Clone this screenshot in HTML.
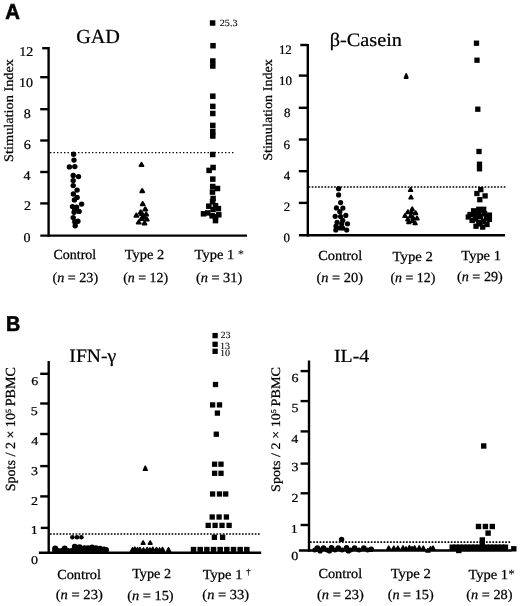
<!DOCTYPE html>
<html><head><meta charset="utf-8"><title>Figure</title>
<style>
html,body{margin:0;padding:0;background:#fff;}
body{width:520px;height:606px;overflow:hidden;}
svg{display:block;}
</style></head>
<body>
<svg width="520" height="606" viewBox="0 0 520 606">
<rect width="520" height="606" fill="#fff"/>
<g fill="#000">
<line x1="48.6" y1="47.0" x2="48.6" y2="236.8" stroke="#000" stroke-width="2.4"/>
<line x1="40.3" y1="235.6" x2="247" y2="235.6" stroke="#000" stroke-width="2.2"/>
<line x1="42.2" y1="48.2" x2="48.6" y2="48.2" stroke="#000" stroke-width="2.4"/>
<line x1="40.2" y1="77.2" x2="48.6" y2="77.2" stroke="#000" stroke-width="2.4"/>
<line x1="40.2" y1="109.2" x2="48.6" y2="109.2" stroke="#000" stroke-width="2.4"/>
<line x1="40.2" y1="140.5" x2="48.6" y2="140.5" stroke="#000" stroke-width="2.4"/>
<line x1="40.2" y1="172" x2="48.6" y2="172" stroke="#000" stroke-width="2.4"/>
<line x1="40.2" y1="203.4" x2="48.6" y2="203.4" stroke="#000" stroke-width="2.4"/>
<line x1="50" y1="152.6" x2="235" y2="152.6" stroke="#000" stroke-width="1.3" stroke-dasharray="1.4 2.1"/>
<circle cx="73.6" cy="154.2" r="2.7"/>
<circle cx="74" cy="160.1" r="2.7"/>
<circle cx="69.4" cy="166.9" r="2.7"/>
<circle cx="74.8" cy="166.6" r="2.7"/>
<circle cx="73.2" cy="175.4" r="2.7"/>
<circle cx="78.5" cy="176.6" r="2.7"/>
<circle cx="73.2" cy="180.6" r="2.7"/>
<circle cx="73.2" cy="185.6" r="2.7"/>
<circle cx="77.1" cy="190.1" r="2.7"/>
<circle cx="73.4" cy="194.0" r="2.7"/>
<circle cx="77.1" cy="197.4" r="2.7"/>
<circle cx="74.4" cy="199.9" r="2.7"/>
<circle cx="81.6" cy="204.1" r="2.7"/>
<circle cx="72.5" cy="206.6" r="2.7"/>
<circle cx="76.6" cy="207.1" r="2.7"/>
<circle cx="74.8" cy="209.8" r="2.7"/>
<circle cx="79.1" cy="211.4" r="2.7"/>
<circle cx="74.1" cy="212.2" r="2.7"/>
<circle cx="73.2" cy="217.6" r="2.7"/>
<circle cx="77.9" cy="221.3" r="2.7"/>
<circle cx="74.8" cy="221.7" r="2.7"/>
<circle cx="75.2" cy="225.8" r="2.7"/>
<path d="M141.50,162.90 L143.40,166.10 L139.60,166.10 Z" stroke="#000" stroke-width="2.0" stroke-linejoin="round"/>
<path d="M142.20,189.00 L144.10,192.20 L140.30,192.20 Z" stroke="#000" stroke-width="2.0" stroke-linejoin="round"/>
<path d="M142.70,202.10 L144.60,205.30 L140.80,205.30 Z" stroke="#000" stroke-width="2.0" stroke-linejoin="round"/>
<path d="M145.30,207.30 L147.20,210.50 L143.40,210.50 Z" stroke="#000" stroke-width="2.0" stroke-linejoin="round"/>
<path d="M140.70,210.20 L142.60,213.40 L138.80,213.40 Z" stroke="#000" stroke-width="2.0" stroke-linejoin="round"/>
<path d="M136.40,213.60 L138.30,216.80 L134.50,216.80 Z" stroke="#000" stroke-width="2.0" stroke-linejoin="round"/>
<path d="M146.20,212.40 L148.10,215.60 L144.30,215.60 Z" stroke="#000" stroke-width="2.0" stroke-linejoin="round"/>
<path d="M143.90,214.80 L145.80,218.00 L142.00,218.00 Z" stroke="#000" stroke-width="2.0" stroke-linejoin="round"/>
<path d="M146.80,217.40 L148.70,220.60 L144.90,220.60 Z" stroke="#000" stroke-width="2.0" stroke-linejoin="round"/>
<path d="M138.70,220.40 L140.60,223.60 L136.80,223.60 Z" stroke="#000" stroke-width="2.0" stroke-linejoin="round"/>
<path d="M144.50,221.20 L146.40,224.40 L142.60,224.40 Z" stroke="#000" stroke-width="2.0" stroke-linejoin="round"/>
<path d="M141.50,216.90 L143.40,220.10 L139.60,220.10 Z" stroke="#000" stroke-width="2.0" stroke-linejoin="round"/>
<path d="M141.80,211.90 L143.70,215.10 L139.90,215.10 Z" stroke="#000" stroke-width="2.0" stroke-linejoin="round"/>
<rect x="209.85" y="20.25" width="5.5" height="5.5"/>
<rect x="210.25" y="42.95" width="5.5" height="5.5"/>
<rect x="210.05" y="58.25" width="5.5" height="5.5"/>
<rect x="210.05" y="63.25" width="5.5" height="5.5"/>
<rect x="210.05" y="93.45" width="5.5" height="5.5"/>
<rect x="210.05" y="103.65" width="5.5" height="5.5"/>
<rect x="210.05" y="110.75" width="5.5" height="5.5"/>
<rect x="210.05" y="122.65" width="5.5" height="5.5"/>
<rect x="210.05" y="128.75" width="5.5" height="5.5"/>
<rect x="210.05" y="133.25" width="5.5" height="5.5"/>
<rect x="209.95" y="151.75" width="5.5" height="5.5"/>
<rect x="210.35" y="164.75" width="5.5" height="5.5"/>
<rect x="206.35" y="167.65" width="5.5" height="5.5"/>
<rect x="210.05" y="176.35" width="5.5" height="5.5"/>
<rect x="209.95" y="183.75" width="5.5" height="5.5"/>
<rect x="214.75" y="185.75" width="5.5" height="5.5"/>
<rect x="209.75" y="189.35" width="5.5" height="5.5"/>
<rect x="210.35" y="195.75" width="5.5" height="5.5"/>
<rect x="209.85" y="199.05" width="5.5" height="5.5"/>
<rect x="206.05" y="203.45" width="5.5" height="5.5"/>
<rect x="212.75" y="202.95" width="5.5" height="5.5"/>
<rect x="215.65" y="205.85" width="5.5" height="5.5"/>
<rect x="210.35" y="206.75" width="5.5" height="5.5"/>
<rect x="200.75" y="211.05" width="5.5" height="5.5"/>
<rect x="205.05" y="210.15" width="5.5" height="5.5"/>
<rect x="209.35" y="213.05" width="5.5" height="5.5"/>
<rect x="216.05" y="212.05" width="5.5" height="5.5"/>
<rect x="212.75" y="213.95" width="5.5" height="5.5"/>
<rect x="212.75" y="217.85" width="5.5" height="5.5"/>
<line x1="307.8" y1="44.0" x2="307.8" y2="236.6" stroke="#000" stroke-width="2.4"/>
<line x1="299" y1="235.3" x2="505" y2="235.3" stroke="#000" stroke-width="2.4"/>
<line x1="300.3" y1="45.0" x2="307.8" y2="45.0" stroke="#000" stroke-width="2.4"/>
<line x1="298.8" y1="75.6" x2="307.8" y2="75.6" stroke="#000" stroke-width="2.4"/>
<line x1="298.8" y1="107.8" x2="307.8" y2="107.8" stroke="#000" stroke-width="2.4"/>
<line x1="298.8" y1="139.5" x2="307.8" y2="139.5" stroke="#000" stroke-width="2.4"/>
<line x1="298.8" y1="171.2" x2="307.8" y2="171.2" stroke="#000" stroke-width="2.4"/>
<line x1="298.8" y1="202.9" x2="307.8" y2="202.9" stroke="#000" stroke-width="2.4"/>
<line x1="308.5" y1="187.0" x2="506" y2="187.0" stroke="#000" stroke-width="1.6" stroke-dasharray="1.7 1.5000000000000002"/>
<circle cx="338.6" cy="188.7" r="2.6"/>
<circle cx="338.6" cy="194.9" r="2.6"/>
<circle cx="340.6" cy="202.6" r="2.6"/>
<circle cx="336.4" cy="207.9" r="2.6"/>
<circle cx="342.9" cy="208.1" r="2.6"/>
<circle cx="339.8" cy="211.7" r="2.6"/>
<circle cx="335.2" cy="216.3" r="2.6"/>
<circle cx="345.8" cy="215.4" r="2.6"/>
<circle cx="340.6" cy="216.5" r="2.6"/>
<circle cx="342.7" cy="220.4" r="2.6"/>
<circle cx="337.1" cy="222.3" r="2.6"/>
<circle cx="347.5" cy="223.75" r="2.6"/>
<circle cx="341.7" cy="223.75" r="2.6"/>
<circle cx="336" cy="226.2" r="2.6"/>
<circle cx="342.7" cy="228.1" r="2.6"/>
<circle cx="335.8" cy="230" r="2.6"/>
<circle cx="346.7" cy="230" r="2.6"/>
<circle cx="340" cy="228" r="2.6"/>
<path d="M406.20,74.05 L407.75,77.95 L404.65,77.95 Z" stroke="#000" stroke-width="1.9" stroke-linejoin="round"/>
<path d="M410.60,188.05 L412.35,191.15 L408.85,191.15 Z" stroke="#000" stroke-width="1.9" stroke-linejoin="round"/>
<path d="M411.00,195.55 L412.75,198.65 L409.25,198.65 Z" stroke="#000" stroke-width="1.9" stroke-linejoin="round"/>
<path d="M412.20,207.25 L413.95,210.35 L410.45,210.35 Z" stroke="#000" stroke-width="1.9" stroke-linejoin="round"/>
<path d="M407.90,210.15 L409.65,213.25 L406.15,213.25 Z" stroke="#000" stroke-width="1.9" stroke-linejoin="round"/>
<path d="M415.60,211.15 L417.35,214.25 L413.85,214.25 Z" stroke="#000" stroke-width="1.9" stroke-linejoin="round"/>
<path d="M405.00,214.05 L406.75,217.15 L403.25,217.15 Z" stroke="#000" stroke-width="1.9" stroke-linejoin="round"/>
<path d="M410.80,214.05 L412.55,217.15 L409.05,217.15 Z" stroke="#000" stroke-width="1.9" stroke-linejoin="round"/>
<path d="M417.00,216.45 L418.75,219.55 L415.25,219.55 Z" stroke="#000" stroke-width="1.9" stroke-linejoin="round"/>
<path d="M407.90,217.35 L409.65,220.45 L406.15,220.45 Z" stroke="#000" stroke-width="1.9" stroke-linejoin="round"/>
<path d="M412.70,218.85 L414.45,221.95 L410.95,221.95 Z" stroke="#000" stroke-width="1.9" stroke-linejoin="round"/>
<path d="M408.80,220.25 L410.55,223.35 L407.05,223.35 Z" stroke="#000" stroke-width="1.9" stroke-linejoin="round"/>
<path d="M415.10,221.25 L416.85,224.35 L413.35,224.35 Z" stroke="#000" stroke-width="1.9" stroke-linejoin="round"/>
<path d="M411.50,210.45 L413.25,213.55 L409.75,213.55 Z" stroke="#000" stroke-width="1.9" stroke-linejoin="round"/>
<path d="M413.00,215.95 L414.75,219.05 L411.25,219.05 Z" stroke="#000" stroke-width="1.9" stroke-linejoin="round"/>
<rect x="473.85" y="40.55" width="5.3" height="5.3"/>
<rect x="474.35" y="57.55" width="5.3" height="5.3"/>
<rect x="475.15" y="106.55" width="5.3" height="5.3"/>
<rect x="476.35" y="148.85" width="5.3" height="5.3"/>
<rect x="476.85" y="161.55" width="5.3" height="5.3"/>
<rect x="476.85" y="166.15" width="5.3" height="5.3"/>
<rect x="478.15" y="186.95" width="5.3" height="5.3"/>
<rect x="474.25" y="190.85" width="5.3" height="5.3"/>
<rect x="482.45" y="193.25" width="5.3" height="5.3"/>
<rect x="477.15" y="197.05" width="5.3" height="5.3"/>
<rect x="476.15" y="206.65" width="5.3" height="5.3"/>
<rect x="481.05" y="206.65" width="5.3" height="5.3"/>
<rect x="470.95" y="208.15" width="5.3" height="5.3"/>
<rect x="465.65" y="214.35" width="5.3" height="5.3"/>
<rect x="471.35" y="211.95" width="5.3" height="5.3"/>
<rect x="476.15" y="211.95" width="5.3" height="5.3"/>
<rect x="481.95" y="211.05" width="5.3" height="5.3"/>
<rect x="486.75" y="212.45" width="5.3" height="5.3"/>
<rect x="486.75" y="216.75" width="5.3" height="5.3"/>
<rect x="469.45" y="217.75" width="5.3" height="5.3"/>
<rect x="481.05" y="218.65" width="5.3" height="5.3"/>
<rect x="473.35" y="223.55" width="5.3" height="5.3"/>
<rect x="480.05" y="224.45" width="5.3" height="5.3"/>
<rect x="476.15" y="219.65" width="5.3" height="5.3"/>
<rect x="477.85" y="213.85" width="5.3" height="5.3"/>
<rect x="483.85" y="215.35" width="5.3" height="5.3"/>
<rect x="472.85" y="216.35" width="5.3" height="5.3"/>
<rect x="477.35" y="221.35" width="5.3" height="5.3"/>
<rect x="467.35" y="211.85" width="5.3" height="5.3"/>
<rect x="484.35" y="221.85" width="5.3" height="5.3"/>
<rect x="476.35" y="208.35" width="5.3" height="5.3"/>
<line x1="48.7" y1="361" x2="48.7" y2="554" stroke="#000" stroke-width="2.4"/>
<line x1="38.9" y1="552.8" x2="261.2" y2="552.8" stroke="#000" stroke-width="2.6"/>
<line x1="40.2" y1="373.8" x2="48.7" y2="373.8" stroke="#000" stroke-width="2.4"/>
<line x1="40.2" y1="403.5" x2="48.7" y2="403.5" stroke="#000" stroke-width="2.4"/>
<line x1="40.2" y1="434" x2="48.7" y2="434" stroke="#000" stroke-width="2.4"/>
<line x1="40.2" y1="466.1" x2="48.7" y2="466.1" stroke="#000" stroke-width="2.4"/>
<line x1="40.2" y1="496.4" x2="48.7" y2="496.4" stroke="#000" stroke-width="2.4"/>
<line x1="40.8" y1="527.9" x2="48.7" y2="527.9" stroke="#000" stroke-width="2.4"/>
<line x1="50" y1="534.0" x2="260" y2="534.0" stroke="#000" stroke-width="1.7" stroke-dasharray="1.7 1.5000000000000002"/>
<circle cx="72.4" cy="537.3" r="2.3"/>
<circle cx="77" cy="537.3" r="2.3"/>
<circle cx="81.4" cy="537.3" r="2.3"/>
<circle cx="55.2" cy="548.5" r="3.0"/>
<circle cx="64.7" cy="548.5" r="3.0"/>
<circle cx="74.8" cy="546.7" r="3.0"/>
<circle cx="79.6" cy="547.3" r="3.0"/>
<circle cx="84.5" cy="548.3" r="3.0"/>
<circle cx="88" cy="548.2" r="3.0"/>
<circle cx="92.1" cy="547.5" r="3.0"/>
<circle cx="96" cy="548.2" r="3.0"/>
<circle cx="100" cy="548.8" r="3.0"/>
<circle cx="104" cy="549.4" r="3.0"/>
<circle cx="106" cy="550" r="3.0"/>
<circle cx="54.5" cy="550.4" r="2.5"/>
<circle cx="57.9" cy="550.4" r="2.5"/>
<circle cx="61.3" cy="550.4" r="2.5"/>
<circle cx="64.7" cy="550.4" r="2.5"/>
<circle cx="68.1" cy="550.4" r="2.5"/>
<circle cx="71.5" cy="550.4" r="2.5"/>
<circle cx="74.9" cy="550.4" r="2.5"/>
<circle cx="78.3" cy="550.4" r="2.5"/>
<circle cx="81.7" cy="550.4" r="2.5"/>
<circle cx="85.1" cy="550.4" r="2.5"/>
<circle cx="88.5" cy="550.4" r="2.5"/>
<circle cx="91.9" cy="550.4" r="2.5"/>
<circle cx="95.3" cy="550.4" r="2.5"/>
<circle cx="98.69999999999999" cy="550.4" r="2.5"/>
<circle cx="102.1" cy="550.4" r="2.5"/>
<circle cx="105.5" cy="550.4" r="2.5"/>
<path d="M145.30,466.10 L147.30,470.30 L143.30,470.30 Z" stroke="#000" stroke-width="1.4" stroke-linejoin="round"/>
<path d="M143.10,540.80 L145.00,544.20 L141.20,544.20 Z" stroke="#000" stroke-width="1.4" stroke-linejoin="round"/>
<path d="M150.20,540.80 L152.10,544.20 L148.30,544.20 Z" stroke="#000" stroke-width="1.4" stroke-linejoin="round"/>
<path d="M132.60,547.60 L134.70,551.40 L130.50,551.40 Z" stroke="#000" stroke-width="1.4" stroke-linejoin="round"/>
<path d="M134.80,547.00 L136.90,550.80 L132.70,550.80 Z" stroke="#000" stroke-width="1.4" stroke-linejoin="round"/>
<path d="M137.50,547.60 L139.60,551.40 L135.40,551.40 Z" stroke="#000" stroke-width="1.4" stroke-linejoin="round"/>
<path d="M139.90,547.40 L142.00,551.20 L137.80,551.20 Z" stroke="#000" stroke-width="1.4" stroke-linejoin="round"/>
<path d="M143.50,547.80 L145.60,551.60 L141.40,551.60 Z" stroke="#000" stroke-width="1.4" stroke-linejoin="round"/>
<path d="M147.20,547.40 L149.30,551.20 L145.10,551.20 Z" stroke="#000" stroke-width="1.4" stroke-linejoin="round"/>
<path d="M150.00,547.80 L152.10,551.60 L147.90,551.60 Z" stroke="#000" stroke-width="1.4" stroke-linejoin="round"/>
<path d="M152.80,547.20 L154.90,551.00 L150.70,551.00 Z" stroke="#000" stroke-width="1.4" stroke-linejoin="round"/>
<path d="M156.50,547.40 L158.60,551.20 L154.40,551.20 Z" stroke="#000" stroke-width="1.4" stroke-linejoin="round"/>
<path d="M159.50,547.80 L161.60,551.60 L157.40,551.60 Z" stroke="#000" stroke-width="1.4" stroke-linejoin="round"/>
<path d="M162.50,547.40 L164.60,551.20 L160.40,551.20 Z" stroke="#000" stroke-width="1.4" stroke-linejoin="round"/>
<path d="M168.50,547.70 L170.60,551.50 L166.40,551.50 Z" stroke="#000" stroke-width="1.4" stroke-linejoin="round"/>
<rect x="212.45" y="332.95" width="5.3" height="5.3"/>
<rect x="212.45" y="341.65" width="5.3" height="5.3"/>
<rect x="212.45" y="348.65" width="5.3" height="5.3"/>
<rect x="212.85" y="381.85" width="5.3" height="5.3"/>
<rect x="209.95" y="402.25" width="5.3" height="5.3"/>
<rect x="216.85" y="402.25" width="5.3" height="5.3"/>
<rect x="214.75" y="410.45" width="5.3" height="5.3"/>
<rect x="213.65" y="431.55" width="5.3" height="5.3"/>
<rect x="211.95" y="461.55" width="5.3" height="5.3"/>
<rect x="218.35" y="461.55" width="5.3" height="5.3"/>
<rect x="211.95" y="470.65" width="5.3" height="5.3"/>
<rect x="218.35" y="470.65" width="5.3" height="5.3"/>
<rect x="209.95" y="491.35" width="5.3" height="5.3"/>
<rect x="216.85" y="491.35" width="5.3" height="5.3"/>
<rect x="223.05" y="491.35" width="5.3" height="5.3"/>
<rect x="209.55" y="514.35" width="5.3" height="5.3"/>
<rect x="216.45" y="514.35" width="5.3" height="5.3"/>
<rect x="223.75" y="514.35" width="5.3" height="5.3"/>
<rect x="205.55" y="522.75" width="5.3" height="5.3"/>
<rect x="212.45" y="522.75" width="5.3" height="5.3"/>
<rect x="219.35" y="522.75" width="5.3" height="5.3"/>
<rect x="226.45" y="522.75" width="5.3" height="5.3"/>
<rect x="211.75" y="534.65" width="5.3" height="5.3"/>
<rect x="219.95" y="534.65" width="5.3" height="5.3"/>
<rect x="190.80" y="546.85" width="5.5" height="5.5"/>
<rect x="197.46" y="546.85" width="5.5" height="5.5"/>
<rect x="204.12" y="546.85" width="5.5" height="5.5"/>
<rect x="210.78" y="546.85" width="5.5" height="5.5"/>
<rect x="217.44" y="546.85" width="5.5" height="5.5"/>
<rect x="224.10" y="546.85" width="5.5" height="5.5"/>
<rect x="230.76" y="546.85" width="5.5" height="5.5"/>
<rect x="237.42" y="546.85" width="5.5" height="5.5"/>
<rect x="244.08" y="546.85" width="5.5" height="5.5"/>
<line x1="309" y1="360.5" x2="309" y2="551.8" stroke="#000" stroke-width="2.4"/>
<line x1="298.9" y1="550.5" x2="511.5" y2="550.5" stroke="#000" stroke-width="2.6"/>
<line x1="300.6" y1="371.1" x2="309" y2="371.1" stroke="#000" stroke-width="2.4"/>
<line x1="300.6" y1="401.1" x2="309" y2="401.1" stroke="#000" stroke-width="2.4"/>
<line x1="300.6" y1="431.4" x2="309" y2="431.4" stroke="#000" stroke-width="2.4"/>
<line x1="300.6" y1="463.6" x2="309" y2="463.6" stroke="#000" stroke-width="2.4"/>
<line x1="300.6" y1="493.3" x2="309" y2="493.3" stroke="#000" stroke-width="2.4"/>
<line x1="300.6" y1="525" x2="309" y2="525" stroke="#000" stroke-width="2.4"/>
<line x1="310" y1="542.1" x2="510.5" y2="542.1" stroke="#000" stroke-width="1.6" stroke-dasharray="1.7 1.5000000000000002"/>
<circle cx="341.6" cy="539.4" r="2.7"/>
<circle cx="317.4" cy="548" r="2.8"/>
<circle cx="323.5" cy="548" r="2.8"/>
<circle cx="331.5" cy="547.8" r="2.8"/>
<circle cx="338.3" cy="548" r="2.8"/>
<circle cx="346.5" cy="547.7" r="2.8"/>
<circle cx="354.6" cy="548.1" r="2.8"/>
<circle cx="363.8" cy="548.1" r="2.8"/>
<circle cx="371.2" cy="549.2" r="2.8"/>
<circle cx="314.8" cy="550" r="2.5"/>
<circle cx="320" cy="550" r="2.5"/>
<circle cx="327" cy="550" r="2.5"/>
<circle cx="335" cy="550" r="2.5"/>
<circle cx="342" cy="550" r="2.5"/>
<circle cx="350.5" cy="550" r="2.5"/>
<circle cx="359" cy="550" r="2.5"/>
<circle cx="367.5" cy="550" r="2.5"/>
<circle cx="320.1" cy="551" r="2.6"/>
<circle cx="329.5" cy="551" r="2.6"/>
<circle cx="348.3" cy="551" r="2.6"/>
<path d="M388.70,546.10 L390.70,549.70 L386.70,549.70 Z" stroke="#000" stroke-width="1.4" stroke-linejoin="round"/>
<path d="M393.80,546.10 L395.80,549.70 L391.80,549.70 Z" stroke="#000" stroke-width="1.4" stroke-linejoin="round"/>
<path d="M397.90,546.10 L399.90,549.70 L395.90,549.70 Z" stroke="#000" stroke-width="1.4" stroke-linejoin="round"/>
<path d="M403.00,545.80 L405.00,549.40 L401.00,549.40 Z" stroke="#000" stroke-width="1.4" stroke-linejoin="round"/>
<path d="M406.00,546.80 L408.00,550.40 L404.00,550.40 Z" stroke="#000" stroke-width="1.4" stroke-linejoin="round"/>
<path d="M409.40,545.50 L411.40,549.10 L407.40,549.10 Z" stroke="#000" stroke-width="1.4" stroke-linejoin="round"/>
<path d="M412.00,546.60 L414.00,550.20 L410.00,550.20 Z" stroke="#000" stroke-width="1.4" stroke-linejoin="round"/>
<path d="M414.60,545.80 L416.60,549.40 L412.60,549.40 Z" stroke="#000" stroke-width="1.4" stroke-linejoin="round"/>
<path d="M419.20,545.80 L421.20,549.40 L417.20,549.40 Z" stroke="#000" stroke-width="1.4" stroke-linejoin="round"/>
<path d="M423.30,546.10 L425.30,549.70 L421.30,549.70 Z" stroke="#000" stroke-width="1.4" stroke-linejoin="round"/>
<path d="M427.90,548.50 L429.90,552.10 L425.90,552.10 Z" stroke="#000" stroke-width="1.4" stroke-linejoin="round"/>
<path d="M430.50,546.60 L432.50,550.20 L428.50,550.20 Z" stroke="#000" stroke-width="1.4" stroke-linejoin="round"/>
<path d="M433.00,546.10 L435.00,549.70 L431.00,549.70 Z" stroke="#000" stroke-width="1.4" stroke-linejoin="round"/>
<rect x="475.80" y="523.80" width="5.4" height="5.4"/>
<rect x="482.70" y="523.80" width="5.4" height="5.4"/>
<rect x="489.60" y="523.80" width="5.4" height="5.4"/>
<rect x="485.40" y="530.40" width="5.4" height="5.4"/>
<rect x="479.60" y="537.30" width="5.4" height="5.4"/>
<rect x="479.60" y="541.30" width="5.4" height="5.4"/>
<rect x="481.00" y="443.30" width="5.4" height="5.4"/>
<rect x="511.10" y="546.10" width="5.4" height="5.4"/>
<rect x="456.10" y="547.80" width="5.4" height="5.4"/>
<rect x="449.50" y="544.50" width="5.4" height="5.4"/>
<rect x="453.30" y="544.50" width="5.4" height="5.4"/>
<rect x="457.10" y="544.50" width="5.4" height="5.4"/>
<rect x="460.90" y="544.50" width="5.4" height="5.4"/>
<rect x="464.70" y="544.50" width="5.4" height="5.4"/>
<rect x="468.50" y="544.50" width="5.4" height="5.4"/>
<rect x="472.30" y="544.50" width="5.4" height="5.4"/>
<rect x="476.10" y="544.50" width="5.4" height="5.4"/>
<rect x="479.90" y="544.50" width="5.4" height="5.4"/>
<rect x="483.70" y="544.50" width="5.4" height="5.4"/>
<rect x="487.50" y="544.50" width="5.4" height="5.4"/>
<rect x="491.30" y="544.50" width="5.4" height="5.4"/>
<rect x="495.10" y="544.50" width="5.4" height="5.4"/>
<rect x="498.90" y="544.50" width="5.4" height="5.4"/>
<rect x="502.70" y="544.50" width="5.4" height="5.4"/>
<text x="0" y="0" transform="translate(5.26,18.52) scale(0.9651,1.0281)" font-size="21" font-family='"Liberation Sans", Arial, sans-serif' font-weight="bold" text-rendering="geometricPrecision" stroke="#000" stroke-width="0.6">A</text>
<text x="0" y="0" transform="translate(76.14,43.28) scale(1.0095,0.9960)" font-size="20" font-family='"Liberation Serif", "Times New Roman", serif' font-weight="normal" text-rendering="geometricPrecision" stroke="#000" stroke-width="0.25">GAD</text>
<text x="0" y="0" transform="translate(13.34,161.89) rotate(-90) scale(0.9941,0.9074)" font-size="14.4" font-family='"Liberation Serif", "Times New Roman", serif' font-weight="normal" text-rendering="geometricPrecision" stroke="#000" stroke-width="0.25">Stimulation Index</text>
<text x="0" y="0" transform="translate(19.13,55.79) scale(0.9700,0.9200)" font-size="14.5" font-family='"Liberation Serif", "Times New Roman", serif' font-weight="normal" text-rendering="geometricPrecision" stroke="#000" stroke-width="0.25">12</text>
<text x="0" y="0" transform="translate(19.09,87.09) scale(0.9700,0.9200)" font-size="14.5" font-family='"Liberation Serif", "Times New Roman", serif' font-weight="normal" text-rendering="geometricPrecision" stroke="#000" stroke-width="0.25">10</text>
<text x="0" y="0" transform="translate(23.66,117.70) scale(0.9700,0.9200)" font-size="14.5" font-family='"Liberation Serif", "Times New Roman", serif' font-weight="normal" text-rendering="geometricPrecision" stroke="#000" stroke-width="0.25">8</text>
<text x="0" y="0" transform="translate(23.85,148.58) scale(0.9700,0.9200)" font-size="14.5" font-family='"Liberation Serif", "Times New Roman", serif' font-weight="normal" text-rendering="geometricPrecision" stroke="#000" stroke-width="0.25">6</text>
<text x="0" y="0" transform="translate(23.50,180.01) scale(0.9700,0.9200)" font-size="14.5" font-family='"Liberation Serif", "Times New Roman", serif' font-weight="normal" text-rendering="geometricPrecision" stroke="#000" stroke-width="0.25">4</text>
<text x="0" y="0" transform="translate(23.96,210.26) scale(0.9700,0.9200)" font-size="14.5" font-family='"Liberation Serif", "Times New Roman", serif' font-weight="normal" text-rendering="geometricPrecision" stroke="#000" stroke-width="0.25">2</text>
<text x="0" y="0" transform="translate(23.55,242.18) scale(0.9700,0.9200)" font-size="14.5" font-family='"Liberation Serif", "Times New Roman", serif' font-weight="normal" text-rendering="geometricPrecision" stroke="#000" stroke-width="0.25">0</text>
<text x="0" y="0" transform="translate(53.45,258.53) scale(1.0153,1.0000)" font-size="13.8" font-family='"Liberation Serif", "Times New Roman", serif' font-weight="normal" text-rendering="geometricPrecision" stroke="#000" stroke-width="0.25">Control</text>
<text x="0" y="0" transform="translate(124.63,259.19) scale(1.0465,1.0000)" font-size="13.8" font-family='"Liberation Serif", "Times New Roman", serif' font-weight="normal" text-rendering="geometricPrecision" stroke="#000" stroke-width="0.25">Type 2</text>
<text x="0" y="0" transform="translate(194.62,258.77) scale(1.0501,1.0000)" font-size="13.8" font-family='"Liberation Serif", "Times New Roman", serif' font-weight="normal" text-rendering="geometricPrecision" stroke="#000" stroke-width="0.25">Type 1 <tspan font-size="12" dy="-0.5" stroke-width="0.05">*</tspan></text>
<text x="0" y="0" transform="translate(52.44,281.69) scale(1.0241,1.0000)" font-size="13.8" font-family='"Liberation Serif", "Times New Roman", serif' font-weight="normal" text-rendering="geometricPrecision" stroke="#000" stroke-width="0.25">(<tspan font-style="italic">n</tspan> = 23)</text>
<text x="0" y="0" transform="translate(123.15,281.90) scale(1.0088,1.0000)" font-size="13.8" font-family='"Liberation Serif", "Times New Roman", serif' font-weight="normal" text-rendering="geometricPrecision" stroke="#000" stroke-width="0.25">(<tspan font-style="italic">n</tspan> = 12)</text>
<text x="0" y="0" transform="translate(195.89,281.57) scale(1.0391,1.0000)" font-size="13.8" font-family='"Liberation Serif", "Times New Roman", serif' font-weight="normal" text-rendering="geometricPrecision" stroke="#000" stroke-width="0.25">(<tspan font-style="italic">n</tspan> = 31)</text>
<text x="0" y="0" transform="translate(219.69,25.61) scale(1.0747,1.0000)" font-size="9.5" font-family='"Liberation Serif", "Times New Roman", serif' font-weight="normal" text-rendering="geometricPrecision" stroke="#000" stroke-width="0.1">25.3</text>
<text x="0" y="0" transform="translate(329.64,45.79) scale(1.0139,0.9482)" font-size="20" font-family='"Liberation Serif", "Times New Roman", serif' font-weight="normal" text-rendering="geometricPrecision" stroke="#000" stroke-width="0.25">β-Casein</text>
<text x="0" y="0" transform="translate(271.68,160.86) rotate(-90) scale(0.9895,0.9223)" font-size="14.3" font-family='"Liberation Serif", "Times New Roman", serif' font-weight="normal" text-rendering="geometricPrecision" stroke="#000" stroke-width="0.25">Stimulation Index</text>
<text x="0" y="0" transform="translate(278.88,54.46) scale(0.9600,0.9500)" font-size="13.5" font-family='"Liberation Serif", "Times New Roman", serif' font-weight="normal" text-rendering="geometricPrecision" stroke="#000" stroke-width="0.25">12</text>
<text x="0" y="0" transform="translate(278.94,85.26) scale(0.9600,0.9500)" font-size="13.5" font-family='"Liberation Serif", "Times New Roman", serif' font-weight="normal" text-rendering="geometricPrecision" stroke="#000" stroke-width="0.25">10</text>
<text x="0" y="0" transform="translate(283.94,116.91) scale(0.9600,0.9500)" font-size="13.5" font-family='"Liberation Serif", "Times New Roman", serif' font-weight="normal" text-rendering="geometricPrecision" stroke="#000" stroke-width="0.25">8</text>
<text x="0" y="0" transform="translate(283.38,148.71) scale(0.9600,0.9500)" font-size="13.5" font-family='"Liberation Serif", "Times New Roman", serif' font-weight="normal" text-rendering="geometricPrecision" stroke="#000" stroke-width="0.25">6</text>
<text x="0" y="0" transform="translate(283.65,179.75) scale(0.9600,0.9500)" font-size="13.5" font-family='"Liberation Serif", "Times New Roman", serif' font-weight="normal" text-rendering="geometricPrecision" stroke="#000" stroke-width="0.25">4</text>
<text x="0" y="0" transform="translate(283.64,211.41) scale(0.9600,0.9500)" font-size="13.5" font-family='"Liberation Serif", "Times New Roman", serif' font-weight="normal" text-rendering="geometricPrecision" stroke="#000" stroke-width="0.25">2</text>
<text x="0" y="0" transform="translate(283.55,242.35) scale(0.9600,0.9500)" font-size="13.5" font-family='"Liberation Serif", "Times New Roman", serif' font-weight="normal" text-rendering="geometricPrecision" stroke="#000" stroke-width="0.25">0</text>
<text x="0" y="0" transform="translate(318.20,260.47) scale(1.0469,1.0000)" font-size="13.8" font-family='"Liberation Serif", "Times New Roman", serif' font-weight="normal" text-rendering="geometricPrecision" stroke="#000" stroke-width="0.25">Control</text>
<text x="0" y="0" transform="translate(392.61,260.52) scale(1.0671,1.0000)" font-size="13.8" font-family='"Liberation Serif", "Times New Roman", serif' font-weight="normal" text-rendering="geometricPrecision" stroke="#000" stroke-width="0.25">Type 2</text>
<text x="0" y="0" transform="translate(461.35,260.12) scale(1.0468,1.0000)" font-size="13.8" font-family='"Liberation Serif", "Times New Roman", serif' font-weight="normal" text-rendering="geometricPrecision" stroke="#000" stroke-width="0.25">Type 1</text>
<text x="0" y="0" transform="translate(316.48,281.51) scale(1.0436,1.0000)" font-size="13.8" font-family='"Liberation Serif", "Times New Roman", serif' font-weight="normal" text-rendering="geometricPrecision" stroke="#000" stroke-width="0.25">(<tspan font-style="italic">n</tspan> = 20)</text>
<text x="0" y="0" transform="translate(390.39,281.98) scale(1.0086,1.0000)" font-size="13.8" font-family='"Liberation Serif", "Times New Roman", serif' font-weight="normal" text-rendering="geometricPrecision" stroke="#000" stroke-width="0.25">(<tspan font-style="italic">n</tspan> = 12)</text>
<text x="0" y="0" transform="translate(456.95,281.46) scale(1.0284,1.0000)" font-size="13.8" font-family='"Liberation Serif", "Times New Roman", serif' font-weight="normal" text-rendering="geometricPrecision" stroke="#000" stroke-width="0.25">(<tspan font-style="italic">n</tspan> = 29)</text>
<text x="0" y="0" transform="translate(5.93,330.72) scale(0.9418,1.0187)" font-size="21" font-family='"Liberation Sans", Arial, sans-serif' font-weight="bold" text-rendering="geometricPrecision" stroke="#000" stroke-width="0.6">B</text>
<text x="0" y="0" transform="translate(69.37,361.87) scale(1.0326,0.9966)" font-size="19" font-family='"Liberation Serif", "Times New Roman", serif' font-weight="normal" text-rendering="geometricPrecision" stroke="#000" stroke-width="0.25">IFN-γ</text>
<text x="0" y="0" transform="translate(14.75,491.33) rotate(-90) scale(1.0194,1.0087)" font-size="13.8" font-family='"Liberation Serif", "Times New Roman", serif' font-weight="normal" text-rendering="geometricPrecision" stroke="#000" stroke-width="0.25">Spots / 2 × 10<tspan font-size="7.8" dy="-4.2">5</tspan><tspan dy="4.2"> PBMC</tspan></text>
<text x="0" y="0" transform="translate(31.28,385.06) scale(1.0000,0.8600)" font-size="14" font-family='"Liberation Serif", "Times New Roman", serif' font-weight="normal" text-rendering="geometricPrecision" stroke="#000" stroke-width="0.25">6</text>
<text x="0" y="0" transform="translate(30.84,415.17) scale(1.0000,0.8600)" font-size="14" font-family='"Liberation Serif", "Times New Roman", serif' font-weight="normal" text-rendering="geometricPrecision" stroke="#000" stroke-width="0.25">5</text>
<text x="0" y="0" transform="translate(31.14,444.57) scale(1.0000,0.8600)" font-size="14" font-family='"Liberation Serif", "Times New Roman", serif' font-weight="normal" text-rendering="geometricPrecision" stroke="#000" stroke-width="0.25">4</text>
<text x="0" y="0" transform="translate(30.97,475.35) scale(1.0000,0.8600)" font-size="14" font-family='"Liberation Serif", "Times New Roman", serif' font-weight="normal" text-rendering="geometricPrecision" stroke="#000" stroke-width="0.25">3</text>
<text x="0" y="0" transform="translate(31.11,505.13) scale(1.0000,0.8600)" font-size="14" font-family='"Liberation Serif", "Times New Roman", serif' font-weight="normal" text-rendering="geometricPrecision" stroke="#000" stroke-width="0.25">2</text>
<text x="0" y="0" transform="translate(30.65,534.37) scale(1.0000,0.8600)" font-size="14" font-family='"Liberation Serif", "Times New Roman", serif' font-weight="normal" text-rendering="geometricPrecision" stroke="#000" stroke-width="0.25">1</text>
<text x="0" y="0" transform="translate(30.90,563.71) scale(1.0000,0.8600)" font-size="14" font-family='"Liberation Serif", "Times New Roman", serif' font-weight="normal" text-rendering="geometricPrecision" stroke="#000" stroke-width="0.25">0</text>
<text x="0" y="0" transform="translate(57.13,578.53) scale(1.0382,1.0000)" font-size="13.8" font-family='"Liberation Serif", "Times New Roman", serif' font-weight="normal" text-rendering="geometricPrecision" stroke="#000" stroke-width="0.25">Control</text>
<text x="0" y="0" transform="translate(132.16,578.39) scale(1.0288,1.0000)" font-size="13.8" font-family='"Liberation Serif", "Times New Roman", serif' font-weight="normal" text-rendering="geometricPrecision" stroke="#000" stroke-width="0.25">Type 2</text>
<text x="0" y="0" transform="translate(202.75,578.51) scale(1.0521,1.0000)" font-size="13.8" font-family='"Liberation Serif", "Times New Roman", serif' font-weight="normal" text-rendering="geometricPrecision" stroke="#000" stroke-width="0.25">Type 1 <tspan font-size="9" dy="-3.5" stroke-width="0.1">†</tspan></text>
<text x="0" y="0" transform="translate(55.63,599.34) scale(1.0591,1.0000)" font-size="13.8" font-family='"Liberation Serif", "Times New Roman", serif' font-weight="normal" text-rendering="geometricPrecision" stroke="#000" stroke-width="0.25">(<tspan font-style="italic">n</tspan> = 23)</text>
<text x="0" y="0" transform="translate(127.16,599.52) scale(1.0429,1.0000)" font-size="13.8" font-family='"Liberation Serif", "Times New Roman", serif' font-weight="normal" text-rendering="geometricPrecision" stroke="#000" stroke-width="0.25">(<tspan font-style="italic">n</tspan> = 15)</text>
<text x="0" y="0" transform="translate(202.33,599.49) scale(1.0496,1.0000)" font-size="13.8" font-family='"Liberation Serif", "Times New Roman", serif' font-weight="normal" text-rendering="geometricPrecision" stroke="#000" stroke-width="0.25">(<tspan font-style="italic">n</tspan> = 33)</text>
<text x="0" y="0" transform="translate(220.87,338.33) scale(1.0087,1.0000)" font-size="9.5" font-family='"Liberation Serif", "Times New Roman", serif' font-weight="normal" text-rendering="geometricPrecision" stroke="#000" stroke-width="0.1">23</text>
<text x="0" y="0" transform="translate(219.96,348.95) scale(1.0577,1.0000)" font-size="9.5" font-family='"Liberation Serif", "Times New Roman", serif' font-weight="normal" text-rendering="geometricPrecision" stroke="#000" stroke-width="0.1">13</text>
<text x="0" y="0" transform="translate(219.94,356.14) scale(1.0591,1.0000)" font-size="9.5" font-family='"Liberation Serif", "Times New Roman", serif' font-weight="normal" text-rendering="geometricPrecision" stroke="#000" stroke-width="0.1">10</text>
<text x="0" y="0" transform="translate(333.93,362.21) scale(1.0435,0.9682)" font-size="19" font-family='"Liberation Serif", "Times New Roman", serif' font-weight="normal" text-rendering="geometricPrecision" stroke="#000" stroke-width="0.25">IL-4</text>
<text x="0" y="0" transform="translate(279.53,491.91) rotate(-90) scale(1.0248,0.9392)" font-size="13.8" font-family='"Liberation Serif", "Times New Roman", serif' font-weight="normal" text-rendering="geometricPrecision" stroke="#000" stroke-width="0.25">Spots / 2 × 10<tspan font-size="7.8" dy="-4.2">5</tspan><tspan dy="4.2"> PBMC</tspan></text>
<text x="0" y="0" transform="translate(291.47,382.18) scale(1.0000,0.8800)" font-size="14" font-family='"Liberation Serif", "Times New Roman", serif' font-weight="normal" text-rendering="geometricPrecision" stroke="#000" stroke-width="0.25">6</text>
<text x="0" y="0" transform="translate(291.40,411.94) scale(1.0000,0.8800)" font-size="14" font-family='"Liberation Serif", "Times New Roman", serif' font-weight="normal" text-rendering="geometricPrecision" stroke="#000" stroke-width="0.25">5</text>
<text x="0" y="0" transform="translate(291.36,442.87) scale(1.0000,0.8800)" font-size="14" font-family='"Liberation Serif", "Times New Roman", serif' font-weight="normal" text-rendering="geometricPrecision" stroke="#000" stroke-width="0.25">4</text>
<text x="0" y="0" transform="translate(291.38,471.36) scale(1.0000,0.8800)" font-size="14" font-family='"Liberation Serif", "Times New Roman", serif' font-weight="normal" text-rendering="geometricPrecision" stroke="#000" stroke-width="0.25">3</text>
<text x="0" y="0" transform="translate(291.61,502.06) scale(1.0000,0.8800)" font-size="14" font-family='"Liberation Serif", "Times New Roman", serif' font-weight="normal" text-rendering="geometricPrecision" stroke="#000" stroke-width="0.25">2</text>
<text x="0" y="0" transform="translate(290.87,532.78) scale(1.0000,0.8800)" font-size="14" font-family='"Liberation Serif", "Times New Roman", serif' font-weight="normal" text-rendering="geometricPrecision" stroke="#000" stroke-width="0.25">1</text>
<text x="0" y="0" transform="translate(291.32,560.47) scale(1.0000,0.8800)" font-size="14" font-family='"Liberation Serif", "Times New Roman", serif' font-weight="normal" text-rendering="geometricPrecision" stroke="#000" stroke-width="0.25">0</text>
<text x="0" y="0" transform="translate(318.39,578.07) scale(1.0373,1.0000)" font-size="13.8" font-family='"Liberation Serif", "Times New Roman", serif' font-weight="normal" text-rendering="geometricPrecision" stroke="#000" stroke-width="0.25">Control</text>
<text x="0" y="0" transform="translate(390.67,578.20) scale(1.0629,1.0000)" font-size="13.8" font-family='"Liberation Serif", "Times New Roman", serif' font-weight="normal" text-rendering="geometricPrecision" stroke="#000" stroke-width="0.25">Type 2</text>
<text x="0" y="0" transform="translate(468.40,578.55) scale(1.0529,1.0000)" font-size="13.8" font-family='"Liberation Serif", "Times New Roman", serif' font-weight="normal" text-rendering="geometricPrecision" stroke="#000" stroke-width="0.25">Type 1<tspan font-size="12.5" dy="-0.5" stroke-width="0.05">*</tspan></text>
<text x="0" y="0" transform="translate(317.04,598.96) scale(1.0465,1.0000)" font-size="13.8" font-family='"Liberation Serif", "Times New Roman", serif' font-weight="normal" text-rendering="geometricPrecision" stroke="#000" stroke-width="0.25">(<tspan font-style="italic">n</tspan> = 23)</text>
<text x="0" y="0" transform="translate(387.65,599.07) scale(1.0325,1.0000)" font-size="13.8" font-family='"Liberation Serif", "Times New Roman", serif' font-weight="normal" text-rendering="geometricPrecision" stroke="#000" stroke-width="0.25">(<tspan font-style="italic">n</tspan> = 15)</text>
<text x="0" y="0" transform="translate(466.34,599.20) scale(1.0340,1.0000)" font-size="13.8" font-family='"Liberation Serif", "Times New Roman", serif' font-weight="normal" text-rendering="geometricPrecision" stroke="#000" stroke-width="0.25">(<tspan font-style="italic">n</tspan> = 28)</text>
</g>
</svg>
</body></html>
